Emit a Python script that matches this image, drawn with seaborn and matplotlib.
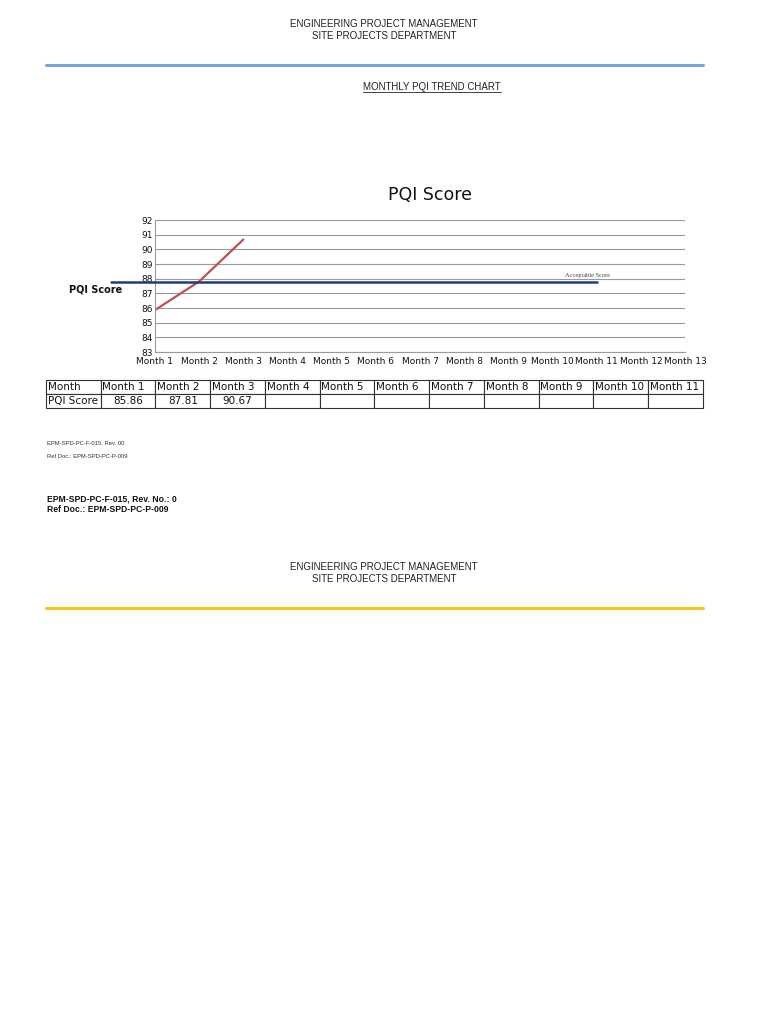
import matplotlib
matplotlib.use("Agg")
import matplotlib.pyplot as plt
import seaborn as sns
import pandas as pd
from matplotlib.lines import Line2D

# ---- data ----
months = ["Month 1", "Month 2", "Month 3", "Month 4", "Month 5", "Month 6", "Month 7",
          "Month 8", "Month 9", "Month 10", "Month 11", "Month 12", "Month 13"]
score_months = ["Month 1", "Month 2", "Month 3"]
pqi_scores = [85.86, 87.81, 90.67]
acceptable_score = 87.8
acceptable_span = ["Month 0", "Month 11"]
y_ticks = [83, 84, 85, 86, 87, 88, 89, 90, 91, 92]
table_months = ["Month 1", "Month 2", "Month 3", "Month 4", "Month 5", "Month 6",
                "Month 7", "Month 8", "Month 9", "Month 10", "Month 11"]
table_scores = ["85.86", "87.81", "90.67", "", "", "", "", "", "", "", ""]

sns.set_theme(style="white")
plt.rcParams['font.family'] = ['DejaVu Sans']

W, H = 768, 1024
fig = plt.figure(figsize=(W / 100, H / 100), dpi=100)

def fx(px):
    return px / W

def fy(py):
    return 1 - py / H

# ---- header ----
hdr_font = dict(family="Liberation Sans", fontsize=7, color="#222222", ha="center", va="center")
fig.text(fx(384), fy(24), "ENGINEERING PROJECT MANAGEMENT", **hdr_font)
fig.text(fx(384), fy(36), "SITE PROJECTS DEPARTMENT", **hdr_font)
fig.add_artist(Line2D([fx(46), fx(703)], [fy(65), fy(65)], color="#7ba3d6", lw=2.2))
t_title = fig.text(fx(432), fy(87), "MONTHLY PQI TREND CHART", **hdr_font)

# ---- chart ----
ax = fig.add_axes([fx(155), fy(352), fx(685) - fx(155), (352 - 220) / H])
df = pd.DataFrame({"month": score_months, "score": pqi_scores})
df["pos"] = [months.index(m) for m in df["month"]]
sns.lineplot(data=df, x="pos", y="score", ax=ax, color="#c0504d", lw=1.6)

acc_x = [int(s.split()[1]) - 1 for s in acceptable_span]
ax.plot(acc_x, [acceptable_score, acceptable_score], color="#1f3d7a", lw=1.8, clip_on=False, zorder=3)
ax.text(9.8, acceptable_score + 0.25, "Acceptable Score", fontsize=4.6, family="Liberation Serif",
        color="#444444", ha="center", va="bottom")

ax.set_xlim(0, len(months) - 1)
ax.set_ylim(y_ticks[0], y_ticks[-1])
ax.set_yticks(y_ticks)
ax.set_yticklabels([str(v) for v in y_ticks], fontsize=6.5)
ax.set_xticks(range(len(months)))
ax.set_xticklabels(months, fontsize=6.5)
ax.tick_params(axis="both", length=0, colors="#111111")
ax.tick_params(axis="y", pad=1.5)
ax.tick_params(axis="x", pad=3.5)
ax.yaxis.grid(True, color="#9a9a9a", lw=0.8)
ax.xaxis.grid(False)
for s in ["top", "right"]:
    ax.spines[s].set_visible(False)
for s in ["left", "bottom"]:
    ax.spines[s].set_color("#9a9a9a")
    ax.spines[s].set_linewidth(0.8)
ax.set_xlabel("")
ax.set_ylabel("")
ax.set_title("")
fig.text(fx(430), fy(195), "PQI Score", fontsize=12.5, ha="center", va="center", color="#111111")
fig.text(fx(96), fy(290), "PQI Score", fontsize=7, fontweight="bold", ha="center", va="center", color="#111111")

# ---- table ----
tax = fig.add_axes([fx(46), fy(408), fx(703) - fx(46), 28 / H])
tax.axis("off")
cell_text = [["Month"] + table_months, ["PQI Score"] + table_scores]
tbl = tax.table(cellText=cell_text, bbox=[0, 0, 1, 1], cellLoc="left")
tbl.auto_set_font_size(False)
for (r, c), cell in tbl.get_celld().items():
    cell.set_edgecolor("#333333")
    cell.set_linewidth(0.8)
    cell.get_text().set_fontsize(7.5)
    cell.get_text().set_color("#111111")
    cell.PAD = 0.03
    if r == 1 and c > 0:
        cell.get_text().set_ha("center")
        cell._loc = "center"

# ---- footers ----
fig.text(fx(47), fy(443), "EPM-SPD-PC-F-015, Rev. 00", fontsize=4.2, family="Liberation Sans",
         color="#333333", va="center")
fig.text(fx(47), fy(457), "Ref Doc.: EPM-SPD-PC-P-009", fontsize=4.2, family="Liberation Sans",
         color="#333333", va="center")
fig.text(fx(47), fy(499), "EPM-SPD-PC-F-015, Rev. No.: 0", fontsize=6.2, family="Liberation Sans",
         fontweight="bold", color="#111111", va="center")
fig.text(fx(47), fy(510), "Ref Doc.: EPM-SPD-PC-P-009", fontsize=6.2, family="Liberation Sans",
         fontweight="bold", color="#111111", va="center")

fig.text(fx(384), fy(567), "ENGINEERING PROJECT MANAGEMENT", **hdr_font)
fig.text(fx(384), fy(579), "SITE PROJECTS DEPARTMENT", **hdr_font)
fig.add_artist(Line2D([fx(46), fx(703)], [fy(608), fy(608)], color="#f5c518", lw=2.2))

# underline for title text
fig.canvas.draw()
bb = t_title.get_window_extent(renderer=fig.canvas.get_renderer()).transformed(fig.transFigure.inverted())
fig.add_artist(Line2D([bb.x0, bb.x1], [bb.y0 + 0.0003, bb.y0 + 0.0003], color="#222222", lw=0.6))

fig.savefig("out.png", dpi=100, facecolor="white")
